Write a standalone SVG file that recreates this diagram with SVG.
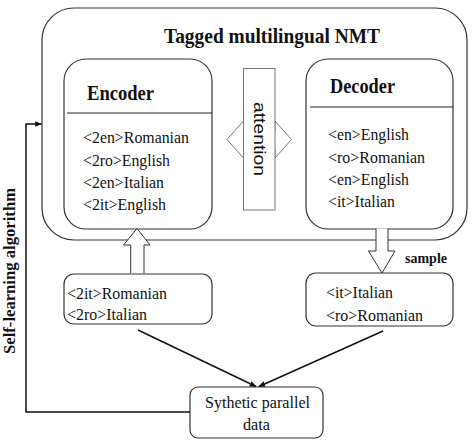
<svg xmlns="http://www.w3.org/2000/svg" width="474" height="444" viewBox="0 0 474 444">
<defs>
<style>
.box{fill:#fff;stroke:#333;stroke-width:1.2}
.t{font-family:"Liberation Serif","Times New Roman",serif;font-size:17.5px;fill:#111}
.tb{font-family:"Liberation Serif","Times New Roman",serif;font-weight:bold;fill:#111}
.line{stroke:#111;stroke-width:1.5;fill:none}
.gray{fill:#fff;stroke:#777;stroke-width:1}
</style>
<marker id="ah" viewBox="0 0 10 10" refX="9" refY="5" markerWidth="7" markerHeight="7" orient="auto" markerUnits="userSpaceOnUse">
<path d="M0,1 L10,5 L0,9 z" fill="#111"/>
</marker>
</defs>
<rect width="474" height="444" fill="#fff"/>

<g id="nmt">
<rect class="box" x="42" y="8" width="425" height="232" rx="32"/>
<text class="tb" x="164" y="43" font-size="21" textLength="216" lengthAdjust="spacingAndGlyphs">Tagged multilingual NMT</text>
</g>

<g id="encoder">
<rect class="box" x="64" y="59" width="148" height="170" rx="22"/>
<line x1="67" y1="113" x2="212" y2="113" stroke="#222" stroke-width="1.2"/>
<text class="tb" x="87" y="100" font-size="20" textLength="67" lengthAdjust="spacingAndGlyphs">Encoder</text>
<text class="t" x="83" y="143" textLength="106" lengthAdjust="spacingAndGlyphs">&lt;2en&gt;Romanian</text>
<text class="t" x="83" y="166" textLength="87" lengthAdjust="spacingAndGlyphs">&lt;2ro&gt;English</text>
<text class="t" x="83" y="188" textLength="81" lengthAdjust="spacingAndGlyphs">&lt;2en&gt;Italian</text>
<text class="t" x="83" y="210" textLength="83" lengthAdjust="spacingAndGlyphs">&lt;2it&gt;English</text>
</g>

<g id="decoder">
<rect class="box" x="306" y="59" width="147" height="170" rx="22"/>
<line x1="310" y1="107" x2="453" y2="107" stroke="#222" stroke-width="1.2"/>
<text class="tb" x="330" y="93" font-size="20" textLength="65" lengthAdjust="spacingAndGlyphs">Decoder</text>
<text class="t" x="328" y="140" textLength="81" lengthAdjust="spacingAndGlyphs">&lt;en&gt;English</text>
<text class="t" x="328" y="163" textLength="97" lengthAdjust="spacingAndGlyphs">&lt;ro&gt;Romanian</text>
<text class="t" x="328" y="185" textLength="81" lengthAdjust="spacingAndGlyphs">&lt;en&gt;English</text>
<text class="t" x="328" y="207" textLength="67" lengthAdjust="spacingAndGlyphs">&lt;it&gt;Italian</text>
</g>

<g id="attention">
<path class="gray" d="M227,139.5 L243.5,121 L243.5,131 L275,131 L275,121 L291.5,139.5 L275,158 L275,149 L243.5,149 L243.5,158 Z"/>
<rect class="gray" x="243.5" y="68.5" width="31.5" height="141.5"/>
<text x="0" y="0" transform="translate(253.5,139) rotate(90)" font-family="Liberation Sans,Arial,sans-serif" font-size="17" fill="#111" text-anchor="middle" textLength="74" lengthAdjust="spacingAndGlyphs">attention</text>
</g>

<g id="source">
<rect class="box" x="64" y="274" width="148" height="50" rx="10"/>
<text class="t" x="67" y="299" textLength="100" lengthAdjust="spacingAndGlyphs">&lt;2it&gt;Romanian</text>
<text class="t" x="67" y="320" textLength="80" lengthAdjust="spacingAndGlyphs">&lt;2ro&gt;Italian</text>
</g>

<g id="sampled">
<rect class="box" x="306" y="273" width="147" height="53" rx="10"/>
<text class="t" x="326" y="298" textLength="67" lengthAdjust="spacingAndGlyphs">&lt;it&gt;Italian</text>
<text class="t" x="326" y="321" textLength="97" lengthAdjust="spacingAndGlyphs">&lt;ro&gt;Romanian</text>
</g>

<g id="synthetic">
<rect class="box" x="190" y="387" width="133" height="51" rx="8"/>
<text class="t" x="205" y="408" textLength="105" lengthAdjust="spacingAndGlyphs">Sythetic parallel</text>
<text class="t" x="243" y="430" textLength="27" lengthAdjust="spacingAndGlyphs">data</text>
</g>

<g id="connectors">
<path fill="#fff" stroke="#333" stroke-width="1" d="M130.7,273 L130.7,245 L123.5,245 L137,228.5 L150,245 L144,245 L144,273"/>
<path fill="#fff" stroke="#333" stroke-width="1" d="M376,228.5 L376,251 L368.5,251 L382,273 L395,251 L388,251 L388,228.5"/>
<text class="tb" x="405" y="263" font-size="15" textLength="42" lengthAdjust="spacingAndGlyphs">sample</text>
<line class="line" x1="138" y1="330" x2="256" y2="386.5" marker-end="url(#ah)"/>
<line class="line" x1="383" y1="331" x2="259" y2="386.5" marker-end="url(#ah)"/>
<path class="line" d="M190,412 L26,412 L26,124 L41.5,124" marker-end="url(#ah)"/>
<text class="tb" x="0" y="0" transform="translate(15,271) rotate(-90)" font-size="16" text-anchor="middle" textLength="166" lengthAdjust="spacingAndGlyphs">Self-learning algorithm</text>
</g>
</svg>
